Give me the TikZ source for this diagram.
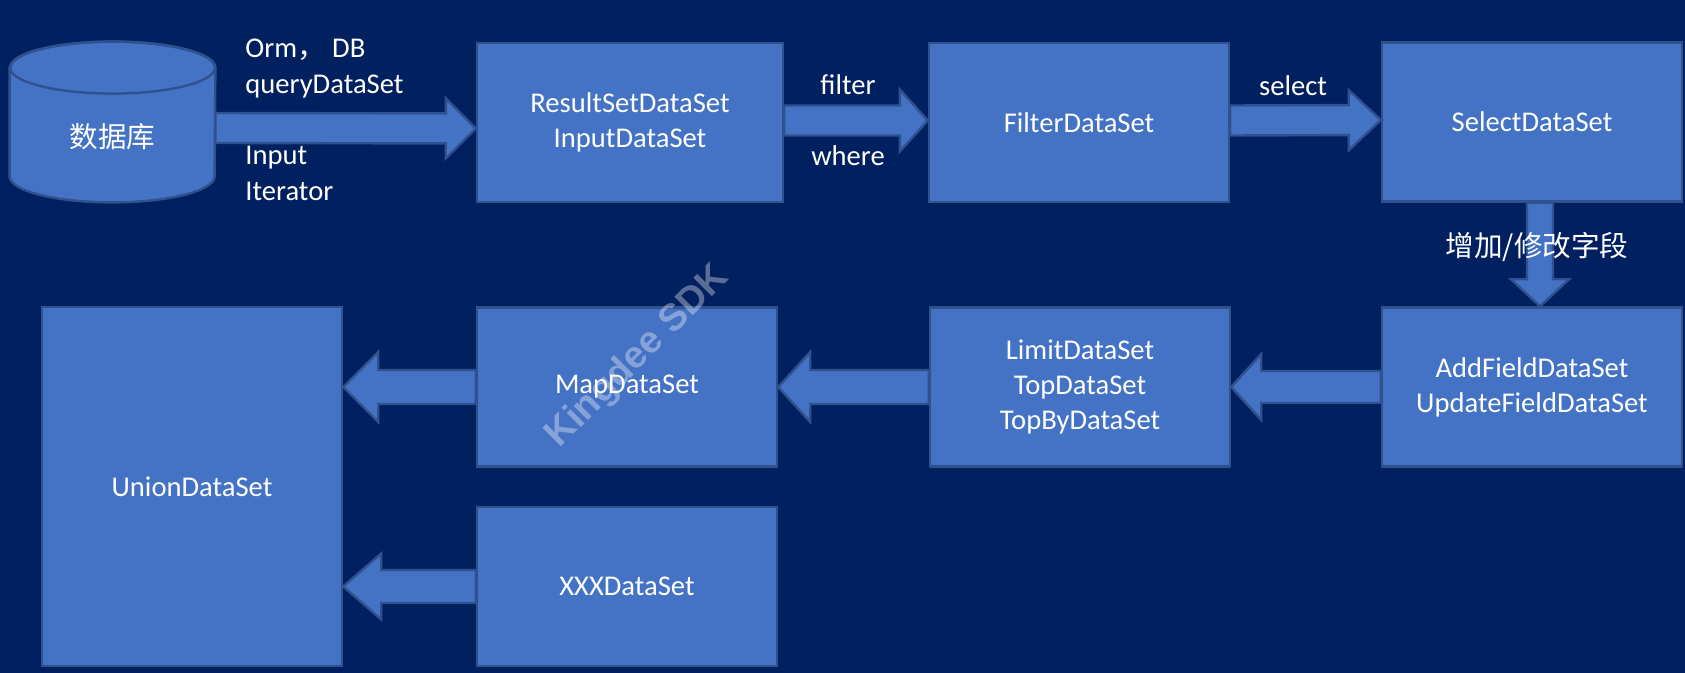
\documentclass[tikz,border=0pt]{standalone}
\usepackage{fontspec}
\setmainfont{Carlito}
\setsansfont{Liberation Sans}
\newfontfamily\cjk{Noto Sans CJK SC}
\usepackage{tikz}
\usetikzlibrary{positioning,calc}
\definecolor{navy}{HTML}{002060}
\definecolor{boxblue}{HTML}{4472C4}
\definecolor{boxedge}{HTML}{2F528F}
\pgfdeclarelayer{back}
\pgfdeclarelayer{under}
\pgfsetlayers{back,under,main}
% block arrow: tail, tip, shaft half width, head half width, head length
\newcommand{\blockarrow}[5]{%
  \begin{pgfonlayer}{under}
  \coordinate (ba-h) at ($(#2)!#5!(#1)$);
  \draw[arrowbody] ($(#1)!#3!90:(#2)$) -- ($(ba-h)!#3!90:(#2)$) -- ($(ba-h)!#4!90:(#2)$) -- (#2)
    -- ($(ba-h)!#4!-90:(#2)$) -- ($(ba-h)!#3!-90:(#2)$) -- ($(#1)!#3!-90:(#2)$) -- cycle;
  \end{pgfonlayer}}

\begin{document}
\begin{tikzpicture}[x=0.5pt, y=0.5pt,
  every node/.style={font=\fontsize{14.3}{17.6}\selectfont, text=white},
  dsbox/.style={draw=boxedge, fill=boxblue, line width=1.2pt, minimum width=150pt, minimum height=79.5pt, align=center, inner sep=0pt},
  lbl/.style={inner sep=0pt, align=left},
  arrowbody/.style={draw=boxedge, fill=boxblue, line width=1.2pt, line join=miter}]
\begin{pgfonlayer}{back}
\fill[navy] (0,0) rectangle (1685,-673);
\end{pgfonlayer}
% database
\node[minimum width=102.5pt, minimum height=80pt, inner sep=0pt] (db) at (112.5,-122) {};
\draw[arrowbody] ([yshift=-13pt]db.north west) -- ([yshift=13pt]db.south west)
  arc[start angle=180, end angle=360, x radius=51.25pt, y radius=13pt]
  -- ([yshift=-13pt]db.north east)
  arc[start angle=0, end angle=180, x radius=51.25pt, y radius=13pt] -- cycle;
\draw[boxedge, line width=1.2pt] ([yshift=-13pt]db.north) ellipse[x radius=51.25pt, y radius=13pt];
\node (dbtext) at ($(db.center)+(0,-15)$) {\cjk 数据库};
% datasets
\node[dsbox, minimum width=153pt] (rs) at (630,-122.5) {ResultSetDataSet\\InputDataSet};
\node[dsbox] (filter) at (1079,-122.5) {FilterDataSet};
\node[dsbox] (select) at (1532,-122) {SelectDataSet};
\node[dsbox] (addfield) at (1532,-387) {AddFieldDataSet\\UpdateFieldDataSet};
\node[dsbox] (limit) at (1080,-387) {LimitDataSet\\TopDataSet\\TopByDataSet};
\node[dsbox] (map) at (627,-387) {MapDataSet};
\node[dsbox, minimum height=179.5pt] (union) at (192,-486.5) {UnionDataSet};
\node[dsbox] (xxx) at (627,-586.5) {XXXDataSet};
% arrows
\blockarrow{[yshift=-3pt]db.east}{[yshift=-3pt]rs.west}{7.5pt}{15pt}{15pt}
\blockarrow{[yshift=1pt]rs.east}{[yshift=1pt]filter.west}{7.5pt}{15.5pt}{14pt}
\blockarrow{[yshift=1pt]filter.east}{[yshift=1pt]select.west}{7.5pt}{15pt}{16pt}
\blockarrow{[xshift=4pt]select.south}{[xshift=4pt]addfield.north}{6.5pt}{14.5pt}{13.5pt}
\blockarrow{addfield.west}{limit.east}{8pt}{16.5pt}{15pt}
\blockarrow{limit.west}{map.east}{8.5pt}{17.5pt}{16pt}
\blockarrow{map.west}{union.east |- map.west}{8.5pt}{17.5pt}{17.5pt}
\blockarrow{xxx.west}{union.east |- xxx.west}{8.25pt}{16.5pt}{19pt}
% labels
\node[lbl, anchor=west] (ormlbl) at (245,-68.5) {Orm{\cjk ，} DB\\queryDataSet};
\node[lbl, anchor=west] (inputlbl) at (245,-173.5) {Input\\Iterator};
\node (filterlbl) at (848,-85) {filter};
\node (wherelbl) at (848,-156) {where};
\node (selectlbl) at (1293,-86) {select};
\node (fieldlbl) at (1537,-247) {\cjk 增加/修改字段};
% watermark
\node[font=\sffamily\bfseries\fontsize{19}{19}\selectfont, text opacity=0.35, rotate=45] (mark) at (638,-357) {Kingdee SDK};
\end{tikzpicture}
\end{document}
